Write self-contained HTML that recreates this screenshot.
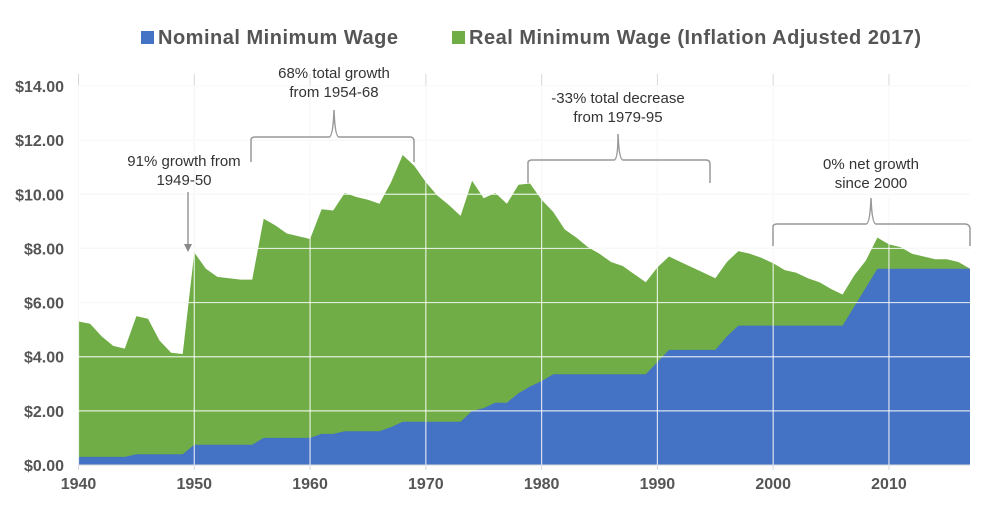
<!DOCTYPE html>
<html><head><meta charset="utf-8"><style>
body{margin:0;background:#fff;font-family:"Liberation Sans",sans-serif;}
svg text{font-family:"Liberation Sans",sans-serif;}
</style></head><body>
<svg id="chart" width="989" height="520" xmlns="http://www.w3.org/2000/svg">
<g>
 <rect x="141" y="31" width="13" height="13" fill="#4472c4"/>
 <text x="158" y="44" font-size="20" font-weight="bold" fill="#555" textLength="240">Nominal Minimum Wage</text>
 <rect x="452" y="31" width="13" height="13" fill="#70ad47"/>
 <text x="469" y="44" font-size="20" font-weight="bold" fill="#555" textLength="452">Real Minimum Wage (Inflation Adjusted 2017)</text>
</g>
<g id="grid"></g><g id="areas"></g><g id="gridw"></g><g id="axes"></g>
<g fill="#333" font-size="15" stroke="none">
 <text x="184" y="166" text-anchor="middle">91% growth from</text>
 <text x="184" y="185" text-anchor="middle">1949-50</text>
 <text x="334" y="78" text-anchor="middle">68% total growth</text>
 <text x="334" y="97" text-anchor="middle">from 1954-68</text>
 <text x="618" y="103" text-anchor="middle">-33% total decrease</text>
 <text x="618" y="122" text-anchor="middle">from 1979-95</text>
 <text x="871" y="169" text-anchor="middle">0% net growth</text>
 <text x="871" y="188" text-anchor="middle">since 2000</text>
</g>
<g fill="none" stroke="#999" stroke-width="1.5">
 <path d="M188 192 V246"/>
 <polygon points="184,244 192,244 188,252" fill="#888" stroke="none"/>
 <path d="M251 162 V140 Q251 137 255 137 H329 Q333 137 334 110 Q335 137 339 137 H410 Q414 137 414 141 V162"/>
 <path d="M528 183 V163 Q528 160 532 160 H614 Q618 160 618 134 Q619 160 623 160 H706 Q710 160 710 164 V183"/>
 <path d="M773 246 V227 Q773 224 777 224 H866 Q870 224 871 198 Q872 224 876 224 H965 Q969 224 970 228 V246"/>
</g>
</svg>
<script>
const years=[];for(let y=1940;y<=2017;y++)years.push(y);
const realWage=[5.3,5.22,4.75,4.4,4.3,5.5,5.4,4.6,4.15,4.1,7.85,7.25,6.95,6.9,6.85,6.85,9.1,8.85,8.55,8.45,8.35,9.45,9.4,10.05,9.9,9.8,9.65,10.45,11.45,11.05,10.45,9.95,9.6,9.2,10.5,9.85,10.05,9.65,10.35,10.4,9.8,9.35,8.7,8.4,8.05,7.8,7.5,7.35,7.05,6.75,7.3,7.7,7.5,7.3,7.1,6.9,7.5,7.9,7.8,7.65,7.45,7.2,7.1,6.9,6.75,6.5,6.3,7.0,7.55,8.4,8.15,8.05,7.8,7.7,7.6,7.6,7.5,7.25];
const nominalWage=[0.30,0.30,0.30,0.30,0.30,0.40,0.40,0.40,0.40,0.40,0.75,0.75,0.75,0.75,0.75,0.75,1.00,1.00,1.00,1.00,1.00,1.15,1.15,1.25,1.25,1.25,1.25,1.40,1.60,1.60,1.60,1.60,1.60,1.60,2.00,2.10,2.30,2.30,2.65,2.90,3.10,3.35,3.35,3.35,3.35,3.35,3.35,3.35,3.35,3.35,3.80,4.25,4.25,4.25,4.25,4.25,4.75,5.15,5.15,5.15,5.15,5.15,5.15,5.15,5.15,5.15,5.15,5.85,6.55,7.25,7.25,7.25,7.25,7.25,7.25,7.25,7.25,7.25];
const yTicks=[0,2,4,6,8,10,12,14];
const yTickLabels=["$0.00","$2.00","$4.00","$6.00","$8.00","$10.00","$12.00","$14.00"];
const xTicks=[1940,1950,1960,1970,1980,1990,2000,2010];
const X0=78.5,X1=970,Y0=465,YT=86;
const xs=y=>X0+(y-1940)*(X1-X0)/77;
const ys=v=>Y0-v*(Y0-YT)/14;
const NS="http://www.w3.org/2000/svg";
function mk(tag,attrs,parent){const e=document.createElementNS(NS,tag);for(const k in attrs)e.setAttribute(k,attrs[k]);parent.appendChild(e);return e;}
const grid=document.getElementById('grid'),gw=document.getElementById('gridw'),axes=document.getElementById('axes'),areas=document.getElementById('areas');
yTicks.forEach((t,i)=>{
 const l=mk('line',{x1:X0,x2:X1,y1:ys(t),y2:ys(t),stroke:'#d9d9d9','stroke-width':1},grid);
 
 
 if(t>0){const w=mk('line',{x1:X0,x2:X1,y1:ys(t),y2:ys(t),stroke:'#fff','stroke-width':1.2,opacity:0.8},gw);
 
 }
 const tx=mk('text',{x:64,y:ys(t)+6,'text-anchor':'end','font-size':16,'font-weight':'bold',fill:'#555'},axes);
 tx.textContent=yTickLabels[i];
 
 
});
xTicks.forEach(t=>{
 const l=mk('line',{x1:xs(t),x2:xs(t),y1:YT-12,y2:Y0+5,stroke:'#d9d9d9','stroke-width':1},grid);
 
 
 const w=mk('line',{x1:xs(t),x2:xs(t),y1:YT,y2:Y0,stroke:'#fff','stroke-width':1.2,opacity:0.8},gw);
 
 
 const tx=mk('text',{x:xs(t),y:Y0+24,'text-anchor':'middle','font-size':16,'font-weight':'bold',fill:'#555'},axes);
 tx.textContent=t;
 
 
});
function areaPath(vals){let d='M'+xs(years[0])+' '+Y0;vals.forEach((v,i)=>{d+=' L'+xs(years[i]).toFixed(1)+' '+ys(v).toFixed(1);});return d+' L'+xs(years[years.length-1])+' '+Y0+' Z';}
const ra=mk('path',{d:areaPath(realWage),fill:'#70ad47'},areas);


const na=mk('path',{d:areaPath(nominalWage),fill:'#4472c4'},areas);


const ax=mk('line',{x1:X0,x2:X1,y1:Y0,y2:Y0,stroke:'#d9d9d9'},axes);


</script>
</body></html>
